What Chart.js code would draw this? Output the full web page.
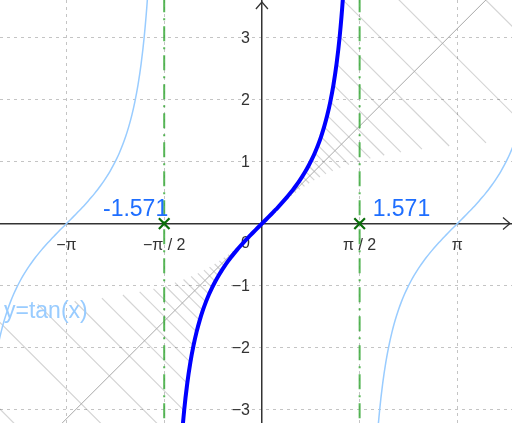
<!DOCTYPE html>
<html>
<head>
<meta charset="utf-8">
<script src="https://cdn.jsdelivr.net/npm/chart.js@4/dist/chart.umd.min.js"></script>
<style>
  html, body { margin: 0; padding: 0; background: #fff; }
  #wrap { width: 512px; height: 423px; }
</style>
</head>
<body>
<div id="wrap"><canvas id="c"></canvas></div>
<script>
// sample abscissas and tan() at each of them (also the ends of the hatch segments)
const sampleX = [-1.4, -1.35, -1.3, -1.25, -1.2, -1.15, -1.1, -1.05, -1, -0.95, -0.9, -0.85, -0.8, -0.75,
  -0.7, -0.65, -0.6, -0.55, -0.5, -0.45, -0.4, -0.35, -0.3, -0.25, -0.2, -0.15, -0.1, -0.05, 0,
  0.05, 0.1, 0.15, 0.2, 0.25, 0.3, 0.35, 0.4, 0.45, 0.5, 0.55, 0.6, 0.65, 0.7, 0.75,
  0.8, 0.85, 0.9, 0.95, 1, 1.05, 1.1, 1.15, 1.2, 1.25, 1.3, 1.35, 1.4];
const tanValues = [-5.798, -4.455, -3.602, -3.010, -2.572, -2.234, -1.965, -1.743, -1.557, -1.398, -1.260, -1.138, -1.030, -0.932,
  -0.842, -0.760, -0.684, -0.613, -0.546, -0.483, -0.423, -0.365, -0.309, -0.255, -0.203, -0.151, -0.100, -0.050, 0,
  0.050, 0.100, 0.151, 0.203, 0.255, 0.309, 0.365, 0.423, 0.483, 0.546, 0.613, 0.684, 0.760, 0.842, 0.932,
  1.030, 1.138, 1.260, 1.398, 1.557, 1.743, 1.965, 2.234, 2.572, 3.010, 3.602, 4.455, 5.798];
const branchShifts = [-Math.PI, Math.PI];
const diagonalX = [-5, 5];
const asymptoteX = [-Math.PI / 2, Math.PI / 2];
const asymptoteY = [-5, 5];
const markerLabels = ['-1.571', '1.571'];
const xTickValues = [-Math.PI, -Math.PI / 2, 0, Math.PI / 2, Math.PI];
const xTickLabels = ['\u2212\u03c0', '\u2212\u03c0 / 2', '', '\u03c0 / 2', '\u03c0'];
const yTickValues = [-3, -2, -1, 0, 1, 2, 3];
const curveLabel = 'y=tan(x)';

const FONT = "'Liberation Sans', Arial, sans-serif";
const LIGHT_BLUE = 'rgb(153,204,255)';
const LABEL_BLUE = 'rgb(30,110,255)';

const tanPoints = sampleX.map((x, i) => ({ x, y: tanValues[i] }));

const hatchPoints = [];
sampleX.forEach((x, i) => {
  hatchPoints.push({ x, y: tanValues[i] }, { x: tanValues[i], y: x }, { x: null, y: null });
});

const branchSets = branchShifts.map(s => ({
  data: sampleX.map((x, i) => ({ x: x + s, y: tanValues[i] })),
  showLine: true, borderColor: LIGHT_BLUE, borderWidth: 1.5, pointRadius: 0,
  cubicInterpolationMode: 'monotone', order: 5
}));

const asymptoteSets = asymptoteX.map(x => ({
  data: asymptoteY.map(y => ({ x, y })),
  showLine: true, borderColor: 'rgba(60,170,60,0.85)', borderWidth: 2, pointRadius: 0,
  borderDash: [15, 6, 2, 6], order: 3
}));

function yLabel(v) {
  if (v === 0) return '';
  return v < 0 ? '\u2212' + (-v) : String(v);
}

function noRoom(s) {
  if (s.isHorizontal()) s.height = 0; else s.width = 0;
  s.paddingTop = s.paddingBottom = s.paddingLeft = s.paddingRight = 0;
}

const axisDecor = {
  id: 'axisDecor',
  beforeDatasetsDraw(chart) {
    const { ctx, scales: { x, y } } = chart;
    const x0 = x.getPixelForValue(0), y0 = y.getPixelForValue(0);
    ctx.save();
    ctx.font = '16px ' + FONT;
    ctx.fillStyle = '#333';
    ctx.textAlign = 'right';
    ctx.textBaseline = 'middle';
    // y tick labels, left of the axis
    y.ticks.forEach(t => ctx.fillText(yLabel(t.value), x0 - 12, y.getPixelForValue(t.value) + 1));
    ctx.textBaseline = 'top';
    ctx.fillText('0', x0 - 12, y0 + 12);
    ctx.restore();
  },
  afterDatasetsDraw(chart) {
    const { ctx, scales: { x, y }, chartArea: a } = chart;
    const x0 = x.getPixelForValue(0), y0 = y.getPixelForValue(0);
    ctx.save();
    // arrows at the positive ends of the axes
    ctx.strokeStyle = '#333';
    ctx.lineWidth = 1.3;
    ctx.beginPath();
    ctx.moveTo(a.right - 9, y0 - 6); ctx.lineTo(a.right - 2, y0); ctx.lineTo(a.right - 9, y0 + 6);
    ctx.moveTo(x0 - 6, a.top + 9); ctx.lineTo(x0, a.top + 2); ctx.lineTo(x0 + 6, a.top + 9);
    ctx.stroke();
    // labels of the two points
    ctx.font = '23px ' + FONT;
    ctx.fillStyle = LABEL_BLUE;
    ctx.textBaseline = 'alphabetic';
    ctx.textAlign = 'right';
    ctx.fillText(markerLabels[0], x.getPixelForValue(asymptoteX[0]) + 4, y0 - 8);
    ctx.textAlign = 'left';
    ctx.fillText(markerLabels[1], x.getPixelForValue(asymptoteX[1]) + 13, y0 - 8);
    // function label
    ctx.fillStyle = LIGHT_BLUE;
    ctx.fillText(curveLabel, 4, y.getPixelForValue(-1.52));
    ctx.restore();
  }
};

new Chart(document.getElementById('c'), {
  type: 'scatter',
  data: {
    datasets: [
      {
        data: asymptoteX.map(x => ({ x, y: 0 })),
        pointStyle: 'crossRot', pointRadius: 7.5, pointBorderWidth: 2.2,
        borderColor: 'rgb(10,110,10)', backgroundColor: 'rgb(10,110,10)', order: 0
      },
      {
        data: tanPoints, showLine: true, borderColor: '#0000ff', borderWidth: 4, pointRadius: 0,
        cubicInterpolationMode: 'monotone', order: 1
      },
      ...asymptoteSets,
      ...branchSets,
      {
        data: diagonalX.map(v => ({ x: v, y: v })), showLine: true,
        borderColor: '#a8a8a8', borderWidth: 1, pointRadius: 0, order: 6
      },
      {
        data: hatchPoints, showLine: true, spanGaps: false,
        borderColor: 'rgba(0,0,0,0.17)', borderWidth: 1.2, pointRadius: 0, order: 7
      }
    ]
  },
  options: {
    responsive: true,
    maintainAspectRatio: false,
    animation: false,
    layout: { padding: 0, autoPadding: false },
    plugins: { legend: { display: false }, tooltip: { enabled: false } },
    scales: {
      x: {
        type: 'linear', min: -4.21, max: 4.02,
        position: { y: 0 },
        afterFit: noRoom,
        afterBuildTicks: s => { s.ticks = xTickValues.map(v => ({ value: v })); },
        grid: { color: '#c4c4c4', lineWidth: 1, drawTicks: false },
        border: { display: true, color: '#333', width: 1.5, dash: [3, 4] },
        ticks: {
          autoSkip: false, maxRotation: 0, padding: 12, color: '#333',
          font: { family: FONT, size: 16 },
          callback: v => xTickLabels[xTickValues.indexOf(v)]
        }
      },
      y: {
        type: 'linear', min: -3.21, max: 3.6,
        position: { x: 0 },
        afterFit: noRoom,
        afterBuildTicks: s => { s.ticks = yTickValues.map(v => ({ value: v })); },
        grid: { color: '#c4c4c4', lineWidth: 1, drawTicks: false },
        border: { display: true, color: '#333', width: 1.5, dash: [3, 4] },
        ticks: { display: false }
      }
    }
  },
  plugins: [axisDecor]
});
</script>
</body>
</html>
